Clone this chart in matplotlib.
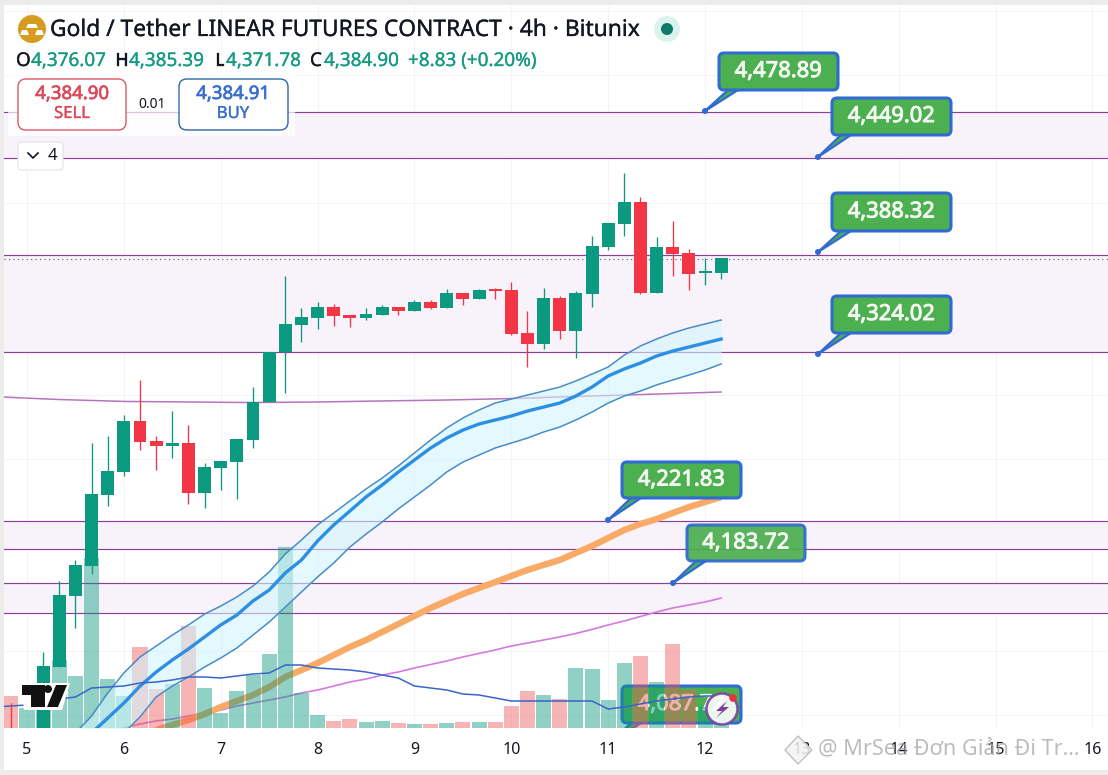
import numpy as np
import matplotlib
matplotlib.use('Agg')
import matplotlib.pyplot as plt
import matplotlib.patheffects as pe
from matplotlib.patches import Rectangle, Circle, Polygon, FancyBboxPatch
from matplotlib.transforms import Affine2D

plt.rcParams['font.family'] = ['Noto Sans', 'DejaVu Sans']

# candles, one every 4h. first candle is index -1, day = 5 + index / 6
opens = [4091.5, 4070, 4086.5, 4132.1, 4176.5, 4195.25, 4239.6, 4254, 4285.9, 4273.4, 4270.25, 4272.1,
         4240.9, 4256.5, 4260.25, 4274, 4297.75, 4329, 4345.9, 4350.25, 4357.1, 4352.1, 4350.25, 4352.1,
         4357.1, 4354.6, 4360.25, 4356.5, 4365.9, 4362.1, 4367.75, 4367.75, 4340.9, 4334, 4362.75, 4342.1,
         4365.25, 4394.6, 4409, 4422.75, 4365.9, 4394.6, 4390.9, 4378.4, 4378.4]
highs = [4109.6, 4090, 4141.5, 4185.9, 4199, 4272.1, 4276.5, 4289.6, 4311.5, 4276.5, 4292.1, 4283.4,
         4259.6, 4260.9, 4274.6, 4307.1, 4329, 4376.5, 4356.5, 4360.25, 4359, 4352.1, 4356.5, 4358.4,
         4357.1, 4361.5, 4361.5, 4368.4, 4365.9, 4368.4, 4369, 4372.75, 4354.6, 4369, 4364, 4367.1,
         4401.5, 4409.6, 4440.9, 4425.9, 4400.9, 4410.9, 4393.4, 4387.75, 4387.75]
lows = [4080, 4065, 4082, 4132.1, 4156.5, 4190.25, 4232.75, 4251.5, 4267.75, 4255.25, 4262.75, 4234,
        4231.5, 4242.75, 4237.1, 4269, 4297.75, 4303.4, 4335.25, 4343.4, 4345.25, 4344.6, 4349, 4352.1,
        4352.1, 4354.6, 4355.9, 4356.5, 4358.4, 4362.1, 4362.1, 4339.6, 4319.6, 4330.9, 4337.1, 4325.25,
        4357.1, 4392.75, 4401.5, 4365.25, 4365.9, 4376.5, 4367.75, 4370.9, 4374.6]
closes = [4083.4, 4085, 4132.75, 4177.1, 4195.9, 4240.25, 4254.6, 4285.9, 4272.75, 4270.25, 4272.1, 4240.9,
          4257.1, 4260.9, 4274.6, 4297.75, 4329, 4346.5, 4350.9, 4357.1, 4351.5, 4350.25, 4352.75, 4357.1,
          4354.6, 4360.25, 4356.5, 4365.9, 4362.1, 4367.75, 4367.1, 4340.25, 4334, 4362.75, 4342.1, 4365.9,
          4395.25, 4409.6, 4422.75, 4365.9, 4394.6, 4390.25, 4377.75, 4379, 4387.75]
volumes = [32, 20, 38, 68, 52, 170, 49, 32, 81, 39, 44, 102, 40, 15, 37, 53, 74, 181, 35, 13, 7, 9, 6, 7, 5, 4,
           4, 5, 6, 6, 6, 22, 37, 33, 29, 60, 59, 28, 65, 72, 46, 84, 38, 21, 11]
# volume average, starts at index -2
volume_ma = [21, 22, 23, 25, 29, 31, 40, 41, 42, 45, 46, 48, 51, 51, 50, 52, 54, 55, 63, 63, 60, 59, 58, 56, 53,
             50, 42, 40, 38, 34, 33, 30, 27, 27, 27, 27, 27, 27, 19, 21, 24, 27, 29, 31, 32, 32]

# moving averages, from index 3
band_upper = [4090.9, 4101.5, 4115.9, 4128.4, 4138.4, 4145.2, 4152.1, 4158.4, 4165.2, 4170.2, 4175.9, 4182.75,
              4191.5, 4202.75, 4211.5, 4220.9, 4228.4, 4235.9, 4243.4, 4250.2, 4257.75, 4265.9, 4274, 4281.5,
              4287.75, 4292.75, 4297.1, 4299.6, 4302.1, 4304.6, 4307.1, 4310.9, 4315.2, 4319.6, 4327.1, 4332.75,
              4337.1, 4340.9, 4344, 4346.5, 4349]
band_mid = [4060, 4090.9, 4100.2, 4109.6, 4120.2, 4129, 4136.5, 4143.4, 4150.9, 4158.4, 4164.6, 4173.4, 4180.2,
            4190.9, 4199, 4210.9, 4220.9, 4229.6, 4238.4, 4245.9, 4254, 4261.5, 4269, 4275.2, 4280.2, 4284,
            4286.5, 4289, 4292.1, 4294.6, 4297.1, 4301.5, 4307.1, 4314, 4318.4, 4322.1, 4326.5, 4329.6, 4332.1,
            4334.6, 4337.1]
band_lower = [4060, 4072, 4083, 4090.9, 4100.9, 4113.4, 4120.2, 4125.9, 4132.1, 4137.75, 4144, 4152.1, 4160.2,
              4169.6, 4179, 4188.4, 4197.1, 4207.1, 4215.2, 4222.75, 4230.9, 4238.4, 4245.9, 4254, 4260.2,
              4264.6, 4269, 4272.1, 4275.2, 4279, 4282.1, 4286.5, 4291.5, 4297.1, 4301.5, 4304.6, 4308.4,
              4311.5, 4314.6, 4317.75, 4321.5]
# from index 8
orange_ma = [4092.75, 4095.9, 4099, 4102.75, 4107.1, 4110.9, 4114.6, 4119.6, 4125.9, 4130.2, 4134.6, 4139.6,
             4144.6, 4149, 4154, 4159, 4164, 4169, 4173.4, 4177.75, 4181.5, 4185.2, 4189, 4192.75, 4195.9, 4199,
             4203.4, 4207.75, 4212.75, 4217.75, 4221.5, 4224.6, 4228.4, 4232.1, 4235.2, 4238.4]
# from index 6
pink_ma = [4094, 4096.5, 4098.4, 4099.6, 4101.5, 4103.4, 4105.2, 4107.75, 4109.6, 4111.5, 4113.4, 4115.9, 4117.75,
           4120.2, 4122.75, 4124.6, 4127.1, 4129, 4131.5, 4133.7, 4135.9, 4138.4, 4140.6, 4142.75, 4145.25, 4147.1,
           4149, 4150.9, 4153.1, 4155.6, 4158.4, 4160.9, 4163.7, 4166.5, 4169, 4170.9, 4172.75, 4175.2]
long_ma_idx = [-3, 2, 6, 10, 14, 18, 22, 26, 30, 34, 38, 43]
long_ma = [4301.5, 4299.3, 4298.1, 4297.75, 4297.4, 4297.75, 4298.4, 4299, 4299.9, 4301.2, 4302.4, 4304]

levels = [4479, 4450.25, 4389.6, 4329, 4223.4, 4205.9, 4184.6, 4165.9]
level_bands = [(4479, 4450.25), (4389.6, 4329), (4223.4, 4205.9), (4184.6, 4165.9)]
last_price = 4387.1

days = [5, 6, 7, 8, 9, 10, 11, 12, 13, 14, 15, 16]
callout_labels = ['4,478.89', '4,449.02', '4,388.32', '4,324.02', '4,221.83', '4,183.72']
title_text = 'Gold / Tether LINEAR FUTURES CONTRACT · 4h · Bitunix'

GREEN = '#0b9a80'
RED = '#f23645'
LINE = '#8c3f98'
BLUE = '#2f6bd2'


def day_of(start, n):
    return 5 + (start + np.arange(n)) / 6


W, H = 1108, 775
fig = plt.figure(figsize=(W / 100, H / 100), dpi=100, facecolor='#ececec')
px = Affine2D().scale(1, -1).translate(0, H)  # top left pixel coords

fig.add_artist(Rectangle((4, 5), W - 4, 765, transform=px, fc='white', ec='none', zorder=-5))

ax = fig.add_axes([4 / W, (H - 728) / H, (W - 4) / W, 722 / H])
ax.patch.set_alpha(0)
ax.set_xlim(5 - 23 / 96.86, 5 + 1081 / 96.86)
ax.set_ylim(4094, 4545.25)
for s in ax.spines.values():
    s.set_visible(False)
ax.set_xticks(days)
ax.set_yticks(np.arange(4382, 4545, 40).tolist() + np.arange(4342, 4094, -40).tolist())
ax.set_yticklabels([])
ax.tick_params(length=0, labelsize=11.5, pad=10, labelcolor='#131722')
ax.grid(True, color='#f3f4f7', lw=0.8, zorder=0)
ax.set_axisbelow(True)

# support / resistance zones
for top, bottom in level_bands:
    ax.axhspan(bottom, top, color='#f8f2fb', lw=0, zorder=1)
for lev in levels:
    ax.axhline(lev, color=LINE, lw=0.85, zorder=1.2)
ax.axhline(last_price, color='#555c6b', lw=0.8, ls=(0, (1, 3)), zorder=1.3)

ax.plot(day_of(6, len(pink_ma)), pink_ma, color='#d47ae0', lw=1.2, zorder=2)
ax.plot(day_of(8, len(orange_ma)), orange_ma, color='#f8aa66', lw=4.6, zorder=2, solid_capstyle='butt')
ax.plot(5 + np.array(long_ma_idx) / 6, long_ma, color='#b873bd', lw=1.1, zorder=2)

# volume sits on the pane bottom, 1 unit = 1 pixel
VOL_SCALE = 0.625
cols = ['#0b9a80' if c >= o else '#ee5a5a' for o, c in zip(opens, closes)]
ax.bar(day_of(-1, len(volumes)), np.array(volumes) * VOL_SCALE, bottom=4094, width=0.155,
       color=cols, alpha=0.45, lw=0, zorder=3)
ax.plot(day_of(-2, len(volume_ma)), 4094 + np.array(volume_ma) * VOL_SCALE, color='#3a64c8', lw=1.1, zorder=3.6)

# ema ribbon
x_band = day_of(3, len(band_upper))
ax.fill_between(x_band, band_lower, band_upper, color='#d2f5fc', alpha=0.6, lw=0, zorder=3.4)
ax.plot(x_band, band_upper, color='#4a8cc8', lw=1.1, zorder=3.5)
ax.plot(x_band, band_lower, color='#4a8cc8', lw=1.1, zorder=3.5)
ax.plot(x_band, band_mid, color='#2d8fe3', lw=2.4, zorder=3.5)

# candles
x_c = day_of(-1, len(opens))
o, h, l, c = map(np.array, (opens, highs, lows, closes))
ccol = [GREEN if b >= a else RED for a, b in zip(opens, closes)]
ax.vlines(x_c, l, h, colors=ccol, lw=0.95, zorder=5)
ax.bar(x_c, np.maximum(np.abs(c - o), 1.2), bottom=np.minimum(o, c), width=0.134, color=ccol, lw=0, zorder=5.1)


def add_box(x0, y0, x1, y1, fc, ec, lw=1.0, r=6, z=10, alpha=None):
    ax_box = FancyBboxPatch((x0, y0), x1 - x0, y1 - y0, boxstyle='round,pad=0,rounding_size=%g' % r,
                            mutation_scale=1, fc=fc, ec=ec, lw=lw, transform=px, zorder=z, alpha=alpha, clip_on=False)
    ax.add_patch(ax_box)


def px_text(x, y, s, size, color='#131722', heavy=0.0, ha='left', z=11):
    t = ax.text(x, y, s, transform=px, fontsize=size, color=color, ha=ha, va='center', zorder=z, clip_on=False)
    if heavy:
        # no bold face for this font here, thicken the outline
        t.set_path_effects([pe.withStroke(linewidth=heavy, foreground=color)])


def callout(x0, y0, x1, y1, tx, ty, label, z=8, alpha=None):
    ax.add_patch(Polygon([(x0 + 9, y1), (x0 + 19, y1), (tx, ty)], closed=True, fc='#4caf50', ec=BLUE, lw=1.6,
                         transform=px, zorder=z))
    add_box(x0, y0, x1, y1, '#4caf50', BLUE, lw=2.2, r=5, z=z + 0.1, alpha=alpha)
    ax.add_patch(Circle((tx, ty), 3, fc=BLUE, ec='none', transform=px, zorder=z + 0.2))
    px_text((x0 + x1) / 2, (y0 + y1) / 2, label, 15.8, color='#f4f8f2', heavy=0.7, ha='center', z=z + 0.3)


callout(719, 53, 838, 90, 705, 111, callout_labels[0])
callout(832, 98, 951, 135, 818, 157, callout_labels[1])
callout(832, 193, 951, 231, 818, 252, callout_labels[2])
callout(832, 296, 951, 333, 818, 354, callout_labels[3])
callout(622, 462, 741, 498, 608, 520, callout_labels[4])
callout(687, 525, 805, 561, 673, 583, callout_labels[5], alpha=0.93)
callout(622, 686, 741, 723, 608, 745, '4,087.72', z=2.5)

# tradingview logo
ax.add_patch(Polygon([(21, 683), (70, 683), (62, 710), (24, 710)], fc='white', ec='none', transform=px, zorder=6))
ax.add_patch(Polygon([(22, 685), (45, 685), (45, 707), (31, 707), (31, 695), (22, 695)], fc='#111111', ec='none',
                     transform=px, zorder=6.1))
ax.add_patch(Polygon([(47, 707), (58, 707), (67, 685), (56, 685)], fc='#111111', ec='none', transform=px, zorder=6.1))
ax.add_patch(Circle((48, 689), 4, fc='#111111', ec='none', transform=px, zorder=6.1))

# bolt badge bottom right
ax.add_patch(Circle((722, 709), 15.5, fc='white', ec='#7c3fa0', lw=1.8, alpha=0.9, transform=px, zorder=9))
ax.add_patch(Polygon([(727, 701), (716, 711), (722, 711), (716, 718), (729, 707), (723, 707)], fc='#7c3fa0',
                     ec='none', transform=px, zorder=9.1))
ax.add_patch(Circle((733, 698), 3.8, fc='#e8313f', ec='none', transform=px, zorder=9.2))

# header
ax.add_patch(Circle((32, 29), 14, fc='#d69c22', ec='none', transform=px, zorder=10, clip_on=False))
for pts in ([(28, 24), (36, 24), (38, 28), (26, 28)], [(20, 35), (29, 35), (27, 30), (22, 30)],
            [(35, 35), (44, 35), (42, 30), (37, 30)]):
    ax.add_patch(Polygon(pts, fc='white', ec='none', transform=px, zorder=10.1, clip_on=False))
px_text(50, 30, title_text, 16.4, heavy=0.2)
ax.add_patch(Circle((667, 29), 13, fc='#dcf2ee', ec='none', transform=px, zorder=10))
ax.add_patch(Circle((667, 29), 6, fc='#0d7a68', ec='none', transform=px, zorder=10.1))

TEAL = '#159a83'
px_text(16, 61, 'O', 13.6, heavy=0.2)
px_text(31, 61, '4,376.07', 13.6, color=TEAL, heavy=0.2)
px_text(115, 61, 'H', 13.6, heavy=0.2)
px_text(129, 61, '4,385.39', 13.6, color=TEAL, heavy=0.2)
px_text(215, 61, 'L', 13.6, heavy=0.2)
px_text(226, 61, '4,371.78', 13.6, color=TEAL, heavy=0.2)
px_text(310, 61, 'C', 13.6, heavy=0.2)
px_text(324, 61, '4,384.90', 13.6, color=TEAL, heavy=0.2)
px_text(408, 61, '+8.83 (+0.20%)', 13.6, color=TEAL, heavy=0.2)

# buy / sell buttons
ax.add_patch(Rectangle((8, 72), 287, 64, fc='white', ec='none', alpha=0.7, transform=px, zorder=9.5))
add_box(18, 79, 126, 130, 'white', '#e0566a', lw=1.0, r=8)
add_box(179, 79, 288, 130, 'white', '#2f66a8', lw=1.0, r=8)
px_text(72, 94, '4,384.90', 13.4, color='#dd4a5a', heavy=0.5, ha='center')
px_text(72, 114, 'SELL', 12, color='#dd4a5a', heavy=0.25, ha='center')
px_text(152, 105, '0.01', 10, ha='center')
px_text(233, 94, '4,384.91', 13.4, color='#3d6fd0', heavy=0.5, ha='center')
px_text(233, 114, 'BUY', 12, color='#3d6fd0', heavy=0.25, ha='center')
add_box(18, 142, 63, 170, 'white', '#e0e3eb', lw=0.8, r=4)
ax.plot([28, 33, 38], [153, 158, 153], color='#131722', lw=1.2, transform=px, zorder=11)
px_text(52, 156, '4', 12, ha='center')

# watermark over the date axis
fig.add_artist(Polygon([(785, 750), (798, 736), (812, 750), (798, 764)], fc='#f4f4f4', ec='#b5b5b5', lw=1.0,
                       transform=px, zorder=20, alpha=0.85))
fig.text(818 / W, (H - 749) / H, '@ MrSea Đơn Giản Đi Tr...', fontsize=15.6, color='#a6a6a6', alpha=0.75,
         va='center', ha='left', zorder=21)

fig.savefig('out.png', dpi=100, facecolor=fig.get_facecolor())
